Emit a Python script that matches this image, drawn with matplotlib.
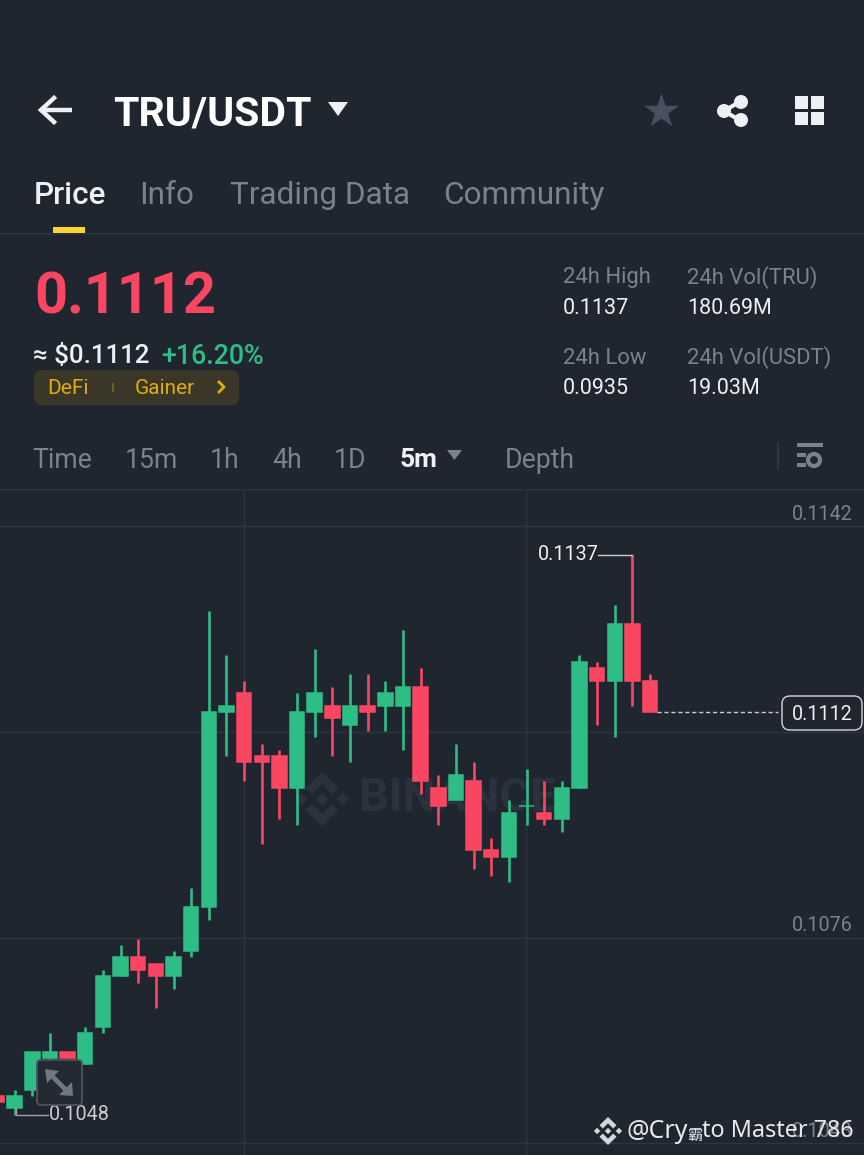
import matplotlib
matplotlib.use('Agg')
import matplotlib.pyplot as plt
from matplotlib.patches import FancyBboxPatch, Rectangle, Polygon, Circle

BG = '#1f2630'
GREEN = '#2ebd85'
RED = '#fb4661'
GREY = '#7a8291'
DIM = '#2c323c'
WHITE = '#eef0f3'
GOLD = '#e2ac0b'

opens = [.1051, .1049, .1052, .1057, .1058, .1056, .1062, .1070, .1073, .1072,
         .1070, .1074, .1081, .1112, .1115, .1105, .1105, .1100, .1112, .1113,
         .1110, .1113, .1113, .1113, .1116, .1100, .1098, .1101, .1090, .1089,
         .1097, .1096, .1095, .1100, .1119, .1117, .1126, .1117]
closes = [.1050, .1051, .1058, .1058, .1057, .1061, .1070, .1073, .1071, .1070,
          .1073, .1081, .1112, .1113, .1104, .1104, .1100, .1112, .1115, .1111,
          .1113, .1112, .1115, .1116, .1101, .1097, .1102, .1090, .1089, .1096,
          .1097, .1095, .1100, .1120, .1117, .1126, .1117, .1112]
highs = [.1051, .1052, .1058, .1061, .1058, .1062, .1071, .1075, .1076, .1072,
         .1074, .1084, .1128, .1121, .1117, .1107, .1106, .1115, .1122, .1116,
         .1118, .1118, .1117, .1125, .1119, .1102, .1107, .1104, .1092, .1098,
         .1103, .1101, .1101, .1121, .1120, .1129, .1137, .1118]
lows = [.1050, .1048, .1051, .1056, .1057, .1056, .1061, .1070, .1069, .1065,
        .1068, .1073, .1079, .1105, .1101, .1091, .1095, .1094, .1108, .1105,
        .1104, .1109, .1109, .1106, .1099, .1094, .1098, .1087, .1086, .1085,
        .1094, .1094, .1093, .1100, .1110, .1108, .1113, .1112]

grid_prices = [.11415, .11088, .10761, .10435]
grid_labels = ['0.1142', '', '0.1076', '0.1043']

tabs = ['Price', 'Info', 'Trading Data', 'Community']
periods = ['Time', '15m', '1h', '4h', '1D', '5m', 'Depth']
stats = [('24h High', '0.1137'), ('24h Vol(TRU)', '180.69M'),
         ('24h Low', '0.0935'), ('24h Vol(USDT)', '19.03M')]


def draw_chart(ax):
    ax.set_facecolor(BG)
    ax.set_xlim(0.17, 49.12)
    ax.set_ylim(.10416, .11473)
    ax.axis('off')
    for p in grid_prices:
        ax.axhline(p, color='#2e3540', lw=1, zorder=1)
    for i in [14.01, 29.97]:
        ax.axvline(i, color='#2e3540', lw=1, zorder=1)

    # watermark sits under the candles
    ax.text(20.5, .10984, 'BINANCE', color=DIM, fontsize=33.5, family='Roboto', weight='bold',
            va='center', ha='left', zorder=1.5)

    for i in range(len(opens)):
        color = GREEN if closes[i] >= opens[i] else RED
        ax.vlines(i, lows[i], highs[i], color=color, lw=1.9, zorder=2)
        ax.bar(i, closes[i] - opens[i], bottom=opens[i], width=0.82, color=color,
               edgecolor=color, linewidth=1.1, zorder=3)


def draw_header(ui):
    # back arrow
    ui.plot([40, 72], [110, 110], color=WHITE, lw=3.2, solid_capstyle='butt')
    ui.plot([54, 41, 54], [98, 110, 122], color=WHITE, lw=3.2, solid_joinstyle='miter')
    ui.text(113, 114, 'TRU/USDT', color='white', fontsize=29.5, weight='bold', family='Roboto', va='center')
    ui.add_patch(Polygon([[328, 102], [348, 102], [338, 116]], color=WHITE, lw=0))

    # star, share, grid
    ui.scatter([661], [111], marker='*', s=700, color='#46505f', lw=0)
    ui.plot([741, 724, 741], [101, 111, 121], color=WHITE, lw=3)
    for cx, cy in [(741, 102), (724, 111), (741, 120)]:
        ui.add_patch(Circle((cx, cy), 7, color=WHITE, lw=0))
    for x0, y0 in [(795, 96), (811, 96), (795, 112), (811, 112)]:
        ui.add_patch(Rectangle((x0, y0), 13, 13, color=WHITE, lw=0))

    for label, x, col, w in zip(tabs, [34, 139, 230, 443], [WHITE, GREY, GREY, GREY],
                                ['medium', 'normal', 'normal', 'normal']):
        ui.text(x, 196, label, color=col, fontsize=22.7, weight=w, family='Roboto', va='center')
    ui.add_patch(Rectangle((53, 227), 32, 6, color='#fcd535', lw=0))
    ui.plot([0, 864], [234, 234], color='#2c323c', lw=1.2)


def draw_stats(ui):
    ui.text(34, 298, '0.1112', color=RED, fontsize=41.5, weight='bold', family='Roboto', va='center')
    ui.text(33, 356, '≈ $0.1112', color=WHITE, fontsize=18.6, weight='medium', family='Roboto', va='center')
    ui.text(161, 356, '+16.20%', color=GREEN, fontsize=19.3, weight='medium', family='Roboto', va='center')

    ui.add_patch(FancyBboxPatch((37, 373), 199, 29, boxstyle='round,pad=3,rounding_size=8',
                                facecolor='#3a3628', edgecolor='none'))
    ui.text(47, 389, 'DeFi', color=GOLD, fontsize=15, family='Roboto', va='center')
    ui.plot([113, 113], [384, 391], color='#6a5d22', lw=1.5)
    ui.text(135, 389, 'Gainer', color=GOLD, fontsize=15, family='Roboto', va='center')
    ui.plot([219, 224, 219], [382, 387, 392], color=GOLD, lw=2)

    for (head, val), x, y in zip(stats, [563, 687, 563, 687], [278, 278, 358, 358]):
        ui.text(x, y, head, color=GREY, fontsize=15.8, family='Roboto', va='center')
        ui.text(x, y + 30, val, color=WHITE, fontsize=15.5, family='Roboto', va='center')


def draw_periods(ui):
    for label, x in zip(periods, [32, 125, 210, 272, 334, 400, 505]):
        active = label == '5m'
        ui.text(x, 460, label, color=WHITE if active else GREY, fontsize=19 if active else 19.2,
                weight='bold' if active else 'normal', family='Roboto', va='center')
    ui.add_patch(Polygon([[447, 450], [462, 450], [454.5, 460]], color=GREY, lw=0))
    ui.plot([778, 778], [443, 469], color='#363d49', lw=1.2)
    ui.add_patch(Rectangle((797, 443), 26, 4, color=GREY, lw=0))
    ui.add_patch(Rectangle((797, 453), 9, 4, color=GREY, lw=0))
    ui.add_patch(Rectangle((797, 463), 9, 4, color=GREY, lw=0))
    ui.add_patch(Circle((814, 460), 6, facecolor=BG, edgecolor=GREY, lw=3))
    ui.plot([0, 864], [490, 490], color='#2c323c', lw=1.2)


def draw_overlay(ui, chart):
    for p, label in zip(grid_prices, grid_labels):
        if label:
            to_y = chart.transData.transform((0, p))[1]
            y = 1155 - to_y
            ui.text(853, y - 12, label, color=GREY, fontsize=14.2, family='Roboto', ha='right', va='center')

    # high and low call-outs
    ui.plot([598, 632], [555, 555], color='#c9ccd2', lw=1)
    ui.text(538, 555, '0.1137', color=WHITE, fontsize=14.2, family='Roboto', va='center')
    ui.plot([16, 16, 48], [1108, 1115, 1115], color='#9a9fa8', lw=1)
    ui.text(49, 1115, '0.1048', color='#c9ccd2', fontsize=14.2, family='Roboto', va='center')

    # last price line and box
    ui.plot([657, 778], [712, 712], color='#c9ccd2', lw=1, ls=(0, (3, 2)))
    ui.add_patch(FancyBboxPatch((784, 698), 76, 30, boxstyle='round,pad=2,rounding_size=8',
                                facecolor=BG, edgecolor='#d5d7db', lw=1))
    ui.text(822, 714, '0.1112', color=WHITE, fontsize=14.2, family='Roboto', ha='center', va='center')

    # expand button
    ui.add_patch(FancyBboxPatch((37, 1060), 45, 45, boxstyle='round,pad=0,rounding_size=4',
                                facecolor='#232a34', edgecolor='#4b5260', lw=1.3, zorder=5))
    ui.plot([50, 68], [1074, 1092], color='#6f7785', lw=3.4, zorder=6)
    ui.add_patch(Polygon([[45, 1069], [59, 1071], [47, 1083]], color='#6f7785', lw=0, zorder=6))
    ui.add_patch(Polygon([[73, 1096], [59, 1095], [72, 1082]], color='#6f7785', lw=0, zorder=6))


def draw_logo(ax, cx, cy, h, color, zorder=1.5):
    # top chevron, mirrored for the bottom, then the three small diamonds
    chevron = [(0, -1), (.61, -.41), (.37, -.18), (0, -.55), (-.37, -.18), (-.61, -.41)]
    for sign in [1, -1]:
        pts = [[cx + u * h, cy + sign * v * h] for u, v in chevron]
        ax.add_patch(Polygon(pts, color=color, lw=0, zorder=zorder))
    r = .23 * h
    for dx in [-.78, 0, .78]:
        x = cx + dx * h
        ax.add_patch(Polygon([[x - r, cy], [x, cy - r], [x + r, cy], [x, cy + r]], color=color, lw=0, zorder=zorder))


def draw_watermark(ui):
    draw_logo(ui, 608, 1131, 14, '#d5d7db', zorder=7)
    ui.text(627, 1131, '@Cry', color='#e8e9ec', fontsize=18, family='Noto Sans', va='center', zorder=7)
    ui.text(702, 1131, 'to Master 786', color='#e8e9ec', fontsize=16.8, family='Noto Sans', va='center', zorder=7)
    ui.text(695, 1135, '霸', color='#e8e9ec', fontsize=11, family=['Noto Sans CJK SC', 'DejaVu Sans'],
            ha='center', va='center', zorder=7)


def pixel_axes(fig, zorder):
    ax = fig.add_axes([0, 0, 1, 1], zorder=zorder)
    ax.set_xlim(0, 864)
    ax.set_ylim(1155, 0)
    ax.axis('off')
    return ax


def main():
    fig = plt.figure(figsize=(8.64, 11.55), dpi=100, facecolor=BG)
    chart = fig.add_axes([0, 0, 1, 665 / 1155])
    draw_chart(chart)
    chart.patch.set_alpha(0)

    # app chrome goes on top of the chart, the big logo goes under the candles
    ui = pixel_axes(fig, 1)
    draw_header(ui)
    draw_stats(ui)
    draw_periods(ui)
    draw_overlay(ui, chart)
    draw_watermark(ui)

    under = pixel_axes(fig, -1)
    draw_logo(under, 322, 799, 27, DIM)

    fig.savefig('out.png', dpi=100, facecolor=BG)


if __name__ == "__main__":
    main()
